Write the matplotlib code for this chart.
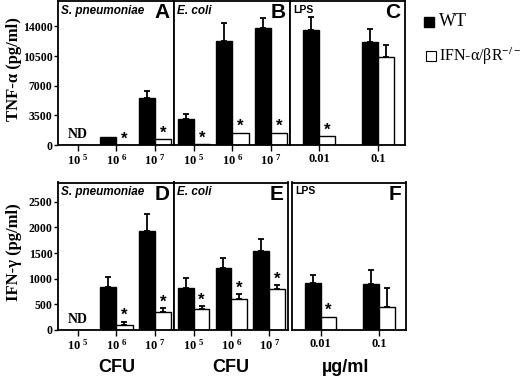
import numpy as np
import matplotlib
matplotlib.use('Agg')
import matplotlib.pyplot as plt

plt.rcParams['mathtext.fontset'] = 'custom'
plt.rcParams['mathtext.rm'] = 'Liberation Serif:bold'
plt.rcParams['mathtext.bf'] = 'Liberation Serif:bold'
plt.rcParams['mathtext.it'] = 'Liberation Serif:bold'

SERIF = 'Liberation Serif'
SANS = 'Liberation Sans'

# group labels
cfu_labels = [r'$10^{\,\,5}$', r'$10^{\,\,6}$', r'$10^{\,\,7}$']
lps_labels = ['0.01', '0.1']

# TNF-alpha (pg/ml): values and upper error
tnf_wt_pneu = [0, 900, 5590]
tnf_wt_pneu_err = [0, 0, 830]
tnf_ko_pneu = [0, 0, 670]
tnf_ko_pneu_err = [0, 0, 0]
tnf_wt_coli = [3110, 12260, 13800]
tnf_wt_coli_err = [590, 2200, 1180]
tnf_ko_coli = [60, 1460, 1460]
tnf_ko_coli_err = [0, 0, 0]
tnf_wt_lps = [13520, 12140]
tnf_wt_lps_err = [1650, 1540]
tnf_ko_lps = [1065, 10440]
tnf_ko_lps_err = [0, 1350]

# IFN-gamma (pg/ml)
ifn_wt_pneu = [0, 846, 1920]
ifn_wt_pneu_err = [0, 183, 346]
ifn_ko_pneu = [0, 104, 358]
ifn_ko_pneu_err = [0, 58, 65]
ifn_wt_coli = [826, 1205, 1537]
ifn_wt_coli_err = [195, 195, 246]
ifn_ko_coli = [410, 611, 795]
ifn_ko_coli_err = [59, 86, 84]
ifn_wt_lps = [924, 892]
ifn_wt_lps_err = [150, 280]
ifn_ko_lps = [260, 455]
ifn_ko_lps_err = [0, 371]

# significance stars above the knockout bars, ND for not determined
star_cfu = [False, True, True]
star_coli = [True, True, True]
star_lps = [True, False]
nd_pneu = [True, False, False]

tnf_ticks = [0, 3500, 7000, 10500, 14000]
ifn_ticks = [0, 500, 1000, 1500, 2000, 2500]

W, H = 520, 378
fig = plt.figure(figsize=(W / 100, H / 100), dpi=100)


def rect(x0, x1, ytop, ybot):
    return [x0 / W, 1 - ybot / H, (x1 - x0) / W, (ybot - ytop) / H]


def panel(r, wt, wt_err, ko, ko_err, stars, labels, ymax, letter, title,
          title_italic=True, nd=None, yticks=None):
    ax = fig.add_axes(r)
    n = len(wt)
    pos = np.arange(n)
    if n == 3:
        w = 0.42
        ax.set_xlim(-0.52, 2.5)
    else:
        w = 0.27
        ax.set_xlim(-0.49, 1.46)
    ax.set_ylim(0, ymax)
    ax.bar(pos - w / 2, wt, w, color='black', edgecolor='black', lw=1)
    ax.bar(pos + w / 2, ko, w, color='white', edgecolor='black', lw=1)
    for i in range(n):
        if wt_err[i] > 0:
            ax.errorbar(pos[i] - w / 2, wt[i], yerr=[[0], [wt_err[i]]],
                        color='black', capsize=2.5, lw=1.3, capthick=1.3)
        if ko_err[i] > 0:
            ax.errorbar(pos[i] + w / 2, ko[i], yerr=[[0], [ko_err[i]]],
                        color='black', capsize=2.5, lw=1.3, capthick=1.3)
        if stars[i]:
            ax.text(pos[i] + w / 2, ko[i] + ko_err[i] - ymax * 0.01, '*',
                    ha='center', va='bottom', fontsize=12, fontweight='bold',
                    family=SANS)
        if nd is not None and nd[i]:
            ax.text(pos[i], ymax * 0.025, 'ND', ha='center', va='bottom',
                    fontsize=10, fontweight='bold', family=SERIF)
    ax.set_xticks(pos)
    ax.set_xticklabels(labels, fontsize=9, fontweight='bold', family=SERIF)
    ax.tick_params(axis='x', direction='out', length=4, width=1, pad=2)
    if yticks is None:
        ax.set_yticks([])
    else:
        ax.set_yticks(yticks)
        ax.set_yticklabels([str(t) for t in yticks], fontsize=8.5,
                           fontweight='bold', family=SERIF)
        ax.tick_params(axis='y', direction='out', length=3, width=1, pad=1)
    for s in ax.spines.values():
        s.set_linewidth(1.3)
    ax.text(0.96, 0.985, letter, transform=ax.transAxes, ha='right', va='top',
            fontsize=15, fontweight='bold', family=SANS)
    ax.text(0.03, 0.975, title, transform=ax.transAxes, ha='left', va='top',
            fontsize=8.5 if title_italic else 7.5, fontweight='bold',
            style='italic' if title_italic else 'normal', family=SANS)
    return ax


# top row: TNF-alpha
panel(rect(58, 174, 1, 145), tnf_wt_pneu, tnf_wt_pneu_err, tnf_ko_pneu,
      tnf_ko_pneu_err, star_cfu, cfu_labels, 17000, 'A', 'S. pneumoniae',
      nd=nd_pneu, yticks=tnf_ticks)
panel(rect(174, 290, 1, 145), tnf_wt_coli, tnf_wt_coli_err, tnf_ko_coli,
      tnf_ko_coli_err, star_coli, cfu_labels, 17000, 'B', 'E. coli')
panel(rect(290, 405, 1, 145), tnf_wt_lps, tnf_wt_lps_err, tnf_ko_lps,
      tnf_ko_lps_err, star_lps, lps_labels, 17000, 'C', 'LPS',
      title_italic=False)

# bottom row: IFN-gamma
panel(rect(58, 174, 182.5, 330), ifn_wt_pneu, ifn_wt_pneu_err, ifn_ko_pneu,
      ifn_ko_pneu_err, star_cfu, cfu_labels, 2875, 'D', 'S. pneumoniae',
      nd=nd_pneu, yticks=ifn_ticks)
panel(rect(174, 288, 182.5, 330), ifn_wt_coli, ifn_wt_coli_err, ifn_ko_coli,
      ifn_ko_coli_err, star_coli, cfu_labels, 2875, 'E', 'E. coli')
panel(rect(292, 406, 182.5, 330), ifn_wt_lps, ifn_wt_lps_err, ifn_ko_lps,
      ifn_ko_lps_err, star_lps, lps_labels, 2875, 'F', 'LPS',
      title_italic=False)

# y labels
fig.text(14 / W, 1 - 69 / H, 'TNF-α (pg/ml)', rotation=90, ha='center',
         va='center', fontsize=12, fontweight='bold', family=SERIF)
fig.text(14 / W, 1 - 252 / H, 'IFN-γ (pg/ml)', rotation=90, ha='center',
         va='center', fontsize=12, fontweight='bold', family=SERIF)

# x unit labels
for xc, lab in [(117, 'CFU'), (231, 'CFU'), (346, 'µg/ml')]:
    fig.text(xc / W, 1 - 368 / H, lab, ha='center', va='center',
             fontsize=13, fontweight='bold', family=SANS)

# legend
fig.patches.append(plt.Rectangle((424 / W, 1 - 27 / H), 10 / W, 10 / H,
                                 transform=fig.transFigure,
                                 facecolor='black', edgecolor='black'))
fig.patches.append(plt.Rectangle((426 / W, 1 - 61 / H), 10 / W, 10 / H,
                                 transform=fig.transFigure,
                                 facecolor='white', edgecolor='black', lw=0.8))
fig.text(439 / W, 1 - 22 / H, 'WT', ha='left', va='center', fontsize=13,
         family=SERIF)
fig.text(439 / W, 1 - 56 / H, 'IFN-α/βR$^{-/-}$', ha='left', va='center',
         fontsize=11.5, family=SERIF)

fig.savefig('out.png', dpi=100)
